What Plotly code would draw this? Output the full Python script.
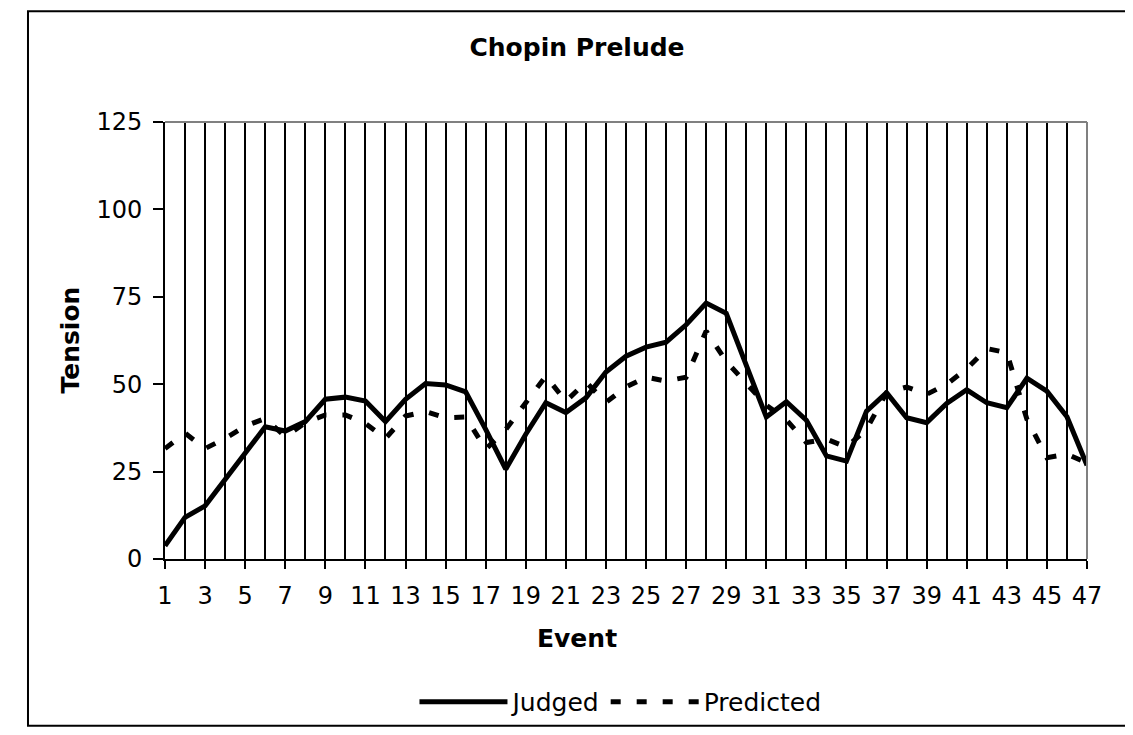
import plotly.graph_objects as go

# event numbers and tension ratings
events = list(range(1, 48))
judged = [3.8, 11.9, 15.2, 22.8, 30, 37.8, 36.6, 39.3, 45.7, 46.3,
          45.2, 39.3, 45.7, 50.2, 49.8, 47.8, 37.1, 25.7, 35.7, 44.7,
          41.9, 46.1, 53.5, 58, 60.6, 62, 67, 73.2, 70.3, 55.5,
          40.6, 45, 39.7, 29.5, 28, 42.3, 47.6, 40.4, 39, 44.5,
          48.4, 44.7, 43.3, 51.7, 48, 40.7, 26.8]
predicted = [31.6, 36, 31.6, 34.5, 38, 40.2, 35, 39, 41.2, 41.2,
             38.8, 34.5, 40.9, 42.2, 40.4, 40.6, 31.4, 37, 44.7, 52.3,
             45.1, 50.6, 44.8, 49.2, 52, 50.9, 52, 65.2, 56.5, 50.5,
             44, 39.8, 33.3, 34.3, 32, 37.1, 47.6, 49.2, 47.1, 50,
             54.4, 60.2, 59, 40, 29, 30, 27.5]

FONT = "DejaVu Sans"

fig = go.Figure()
fig.add_trace(go.Scatter(x=events, y=judged, name="Judged", mode="lines",
                         line=dict(color="black", width=5)))
fig.add_trace(go.Scatter(x=events, y=predicted, name="Predicted", mode="lines",
                         line=dict(color="black", width=5, dash="10px,16px")))

fig.update_xaxes(
    range=[1, 47], tick0=1, dtick=2,
    ticks="outside", ticklen=8, tickwidth=2, tickcolor="black",
    showline=True, linecolor="black", linewidth=2,
    showgrid=True, gridcolor="black", gridwidth=1.5, zeroline=False,
    minor=dict(tick0=1, dtick=1, showgrid=True, gridcolor="black", gridwidth=1.5),
    ticklabelstandoff=6,
    tickfont=dict(family=FONT, size=24, color="black"),
)
fig.update_yaxes(
    range=[0, 125], dtick=25,
    ticks="outside", ticklen=10, tickwidth=2, tickcolor="black",
    showline=True, linecolor="black", linewidth=2,
    showgrid=False, zeroline=False, ticklabelstandoff=6,
    tickfont=dict(family=FONT, size=24, color="black"),
)

# page body has an 8px margin, so the figure is a bit smaller than the window
fig.update_layout(
    width=1125, height=727,
    margin=dict(l=157, r=46, t=114, b=175),
    paper_bgcolor="white", plot_bgcolor="white",
    font=dict(family=FONT, color="black"),
    title=dict(text="<b>Chopin Prelude</b>", x=0.5058, xref="container",
               xanchor="center", y=0.9464, yanchor="middle",
               font=dict(family=FONT, size=25, color="black")),
    showlegend=True,
    legend=dict(orientation="h", x=0.494, xanchor="center", y=-0.324,
                yanchor="middle", itemwidth=88,
                font=dict(family=FONT, size=25, color="black"),
                bgcolor="rgba(0,0,0,0)"),
    annotations=[
        dict(text="<b>Event</b>", xref="paper", yref="paper", x=0.4469, y=-0.1826,
             xanchor="center", yanchor="middle", showarrow=False,
             font=dict(family=FONT, size=25, color="black")),
        dict(text="<b>Tension</b>", xref="paper", yref="paper", x=-0.103, y=0.5,
             xanchor="center", yanchor="middle", textangle=-90, showarrow=False,
             font=dict(family=FONT, size=25, color="black")),
    ],
    shapes=[
        # gray top and right edges of the plot area
        dict(type="line", xref="paper", yref="paper", x0=0, x1=1, y0=1, y1=1,
             line=dict(color="#808080", width=2), layer="above"),
        dict(type="line", xref="paper", yref="paper", x0=1, x1=1, y0=0, y1=1,
             line=dict(color="#808080", width=2), layer="above"),
        # chart border
        dict(type="rect", xref="paper", yref="paper",
             x0=-0.1486, x1=1.0423, y0=-0.3813, y1=1.2534,
             line=dict(color="black", width=2)),
    ],
)

fig.write_html("out.html")
